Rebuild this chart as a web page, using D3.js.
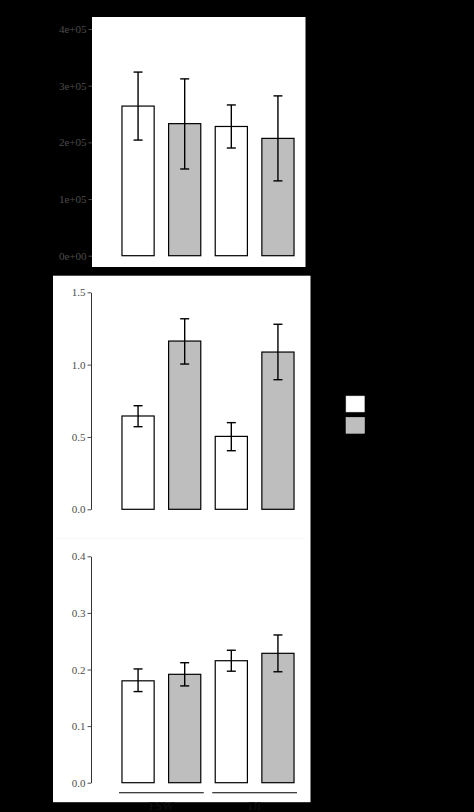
<!DOCTYPE html>
<html><head><meta charset="utf-8">
<script src="https://cdn.jsdelivr.net/npm/d3@7"></script>
<style>html,body{margin:0;padding:0;background:#000;}svg{display:block;}</style>
</head><body>
<script>
// ---- data ----
const categories = ["FSW-1", "FSW-2", "DI-1", "DI-2"];
const groups = ["FSW", "DI"];
const fills = ["#ffffff", "#bebebe", "#ffffff", "#bebebe"];

const topValues = [264000, 233000, 228000, 207000];
const topLow    = [204000, 153000, 190000, 132000];
const topHigh   = [324000, 312000, 266000, 282000];
const topTicks  = [0, 100000, 200000, 300000, 400000];
const topTickLabels = ["0e+00", "1e+05", "2e+05", "3e+05", "4e+05"];

const midValues = [0.645, 1.163, 0.504, 1.087];
const midLow    = [0.571, 1.004, 0.405, 0.896];
const midHigh   = [0.716, 1.317, 0.599, 1.279];
const midTicks  = [0, 0.5, 1.0, 1.5];

const botValues = [0.180, 0.1915, 0.2155, 0.2286];
const botLow    = [0.161, 0.171, 0.197, 0.196];
const botHigh   = [0.201, 0.212, 0.234, 0.261];
const botTicks  = [0, 0.1, 0.2, 0.3, 0.4];

const legendFills = ["#ffffff", "#bebebe"];

// ---- drawing ----
const W = 474, H = 812;
const svg = d3.select("body").append("svg").attr("width", W).attr("height", H);
svg.append("rect").attr("width", W).attr("height", H).attr("fill", "#000");

const font = "'Liberation Serif','Times New Roman',serif";
const x = d3.scaleBand().domain(categories).range([114.75, 301.25]).paddingInner(0.31).paddingOuter(0.155);

// backgrounds
svg.append("rect").attr("x", 92).attr("y", 17).attr("width", 213.5).attr("height", 250).attr("fill", "#fff");
svg.append("rect").attr("x", 53).attr("y", 275.7).attr("width", 257.5).attr("height", 526.5).attr("fill", "#fff");
svg.append("line").attr("x1", 55).attr("x2", 306).attr("y1", 538.5).attr("y2", 538.5)
  .attr("stroke", "#f8f8f8").attr("stroke-width", 1);

function panel(yRange, domain, ticks, fmt, vals, lo, hi, showDomain) {
  const y = d3.scaleLinear().domain(domain).range(yRange);
  const ax = d3.axisLeft(y).tickValues(ticks).tickFormat(fmt).tickSize(3.5).tickSizeOuter(0).tickPadding(2);
  const g = svg.append("g").attr("transform", `translate(${showDomain ? 91 : 92},0)`).call(ax);
  g.selectAll("text").attr("font-family", font).attr("font-size", 11).attr("fill", "#4d4d4d");
  g.selectAll(".tick line").attr("stroke", "#4d4d4d");
  if (showDomain) g.select(".domain").attr("stroke", "#333").attr("stroke-width", 1);
  else g.select(".domain").remove();

  const bars = svg.append("g");
  bars.selectAll("rect").data(categories).join("rect")
    .attr("x", d => x(d)).attr("width", x.bandwidth())
    .attr("y", (d, i) => y(vals[i])).attr("height", (d, i) => y(0) - y(vals[i]))
    .attr("fill", (d, i) => fills[i]).attr("stroke", "#000").attr("stroke-width", 1.2);

  const eb = svg.append("g").attr("stroke", "#000").attr("stroke-width", 1.4);
  categories.forEach((c, i) => {
    const cx = x(c) + x.bandwidth() / 2;
    eb.append("line").attr("x1", cx).attr("x2", cx).attr("y1", y(lo[i])).attr("y2", y(hi[i]));
    eb.append("line").attr("x1", cx - 4.5).attr("x2", cx + 4.5).attr("y1", y(lo[i])).attr("y2", y(lo[i]));
    eb.append("line").attr("x1", cx - 4.5).attr("x2", cx + 4.5).attr("y1", y(hi[i])).attr("y2", y(hi[i]));
  });
  return y;
}

panel([255.7, 29], [0, 400000], topTicks, (d, i) => topTickLabels[i], topValues, topLow, topHigh, false);
panel([509.3, 292.3], [0, 1.5], midTicks, d3.format(".1f"), midValues, midLow, midHigh, true);
panel([782.7, 556.3], [0, 0.4], botTicks, d3.format(".1f"), botValues, botLow, botHigh, true);

// group lines & labels
groups.forEach((gname, gi) => {
  const a = x(categories[gi * 2]), b = x(categories[gi * 2 + 1]) + x.bandwidth();
  svg.append("line").attr("x1", a - 3).attr("x2", b + 3).attr("y1", 792.7).attr("y2", 792.7)
    .attr("stroke", "#000").attr("stroke-width", 1.1);
  svg.append("text").attr("x", (a + b) / 2).attr("y", 810).attr("text-anchor", "middle")
    .attr("font-family", font).attr("font-size", 12).attr("fill", "#111").text(gname);
});

// legend keys
legendFills.forEach((f, i) => {
  svg.append("rect").attr("x", 346).attr("y", 396 + i * 21.3).attr("width", 18.5).attr("height", 16)
    .attr("fill", f).attr("stroke", "#d0d0d0").attr("stroke-width", 0.5);
});
</script>
</body></html>
